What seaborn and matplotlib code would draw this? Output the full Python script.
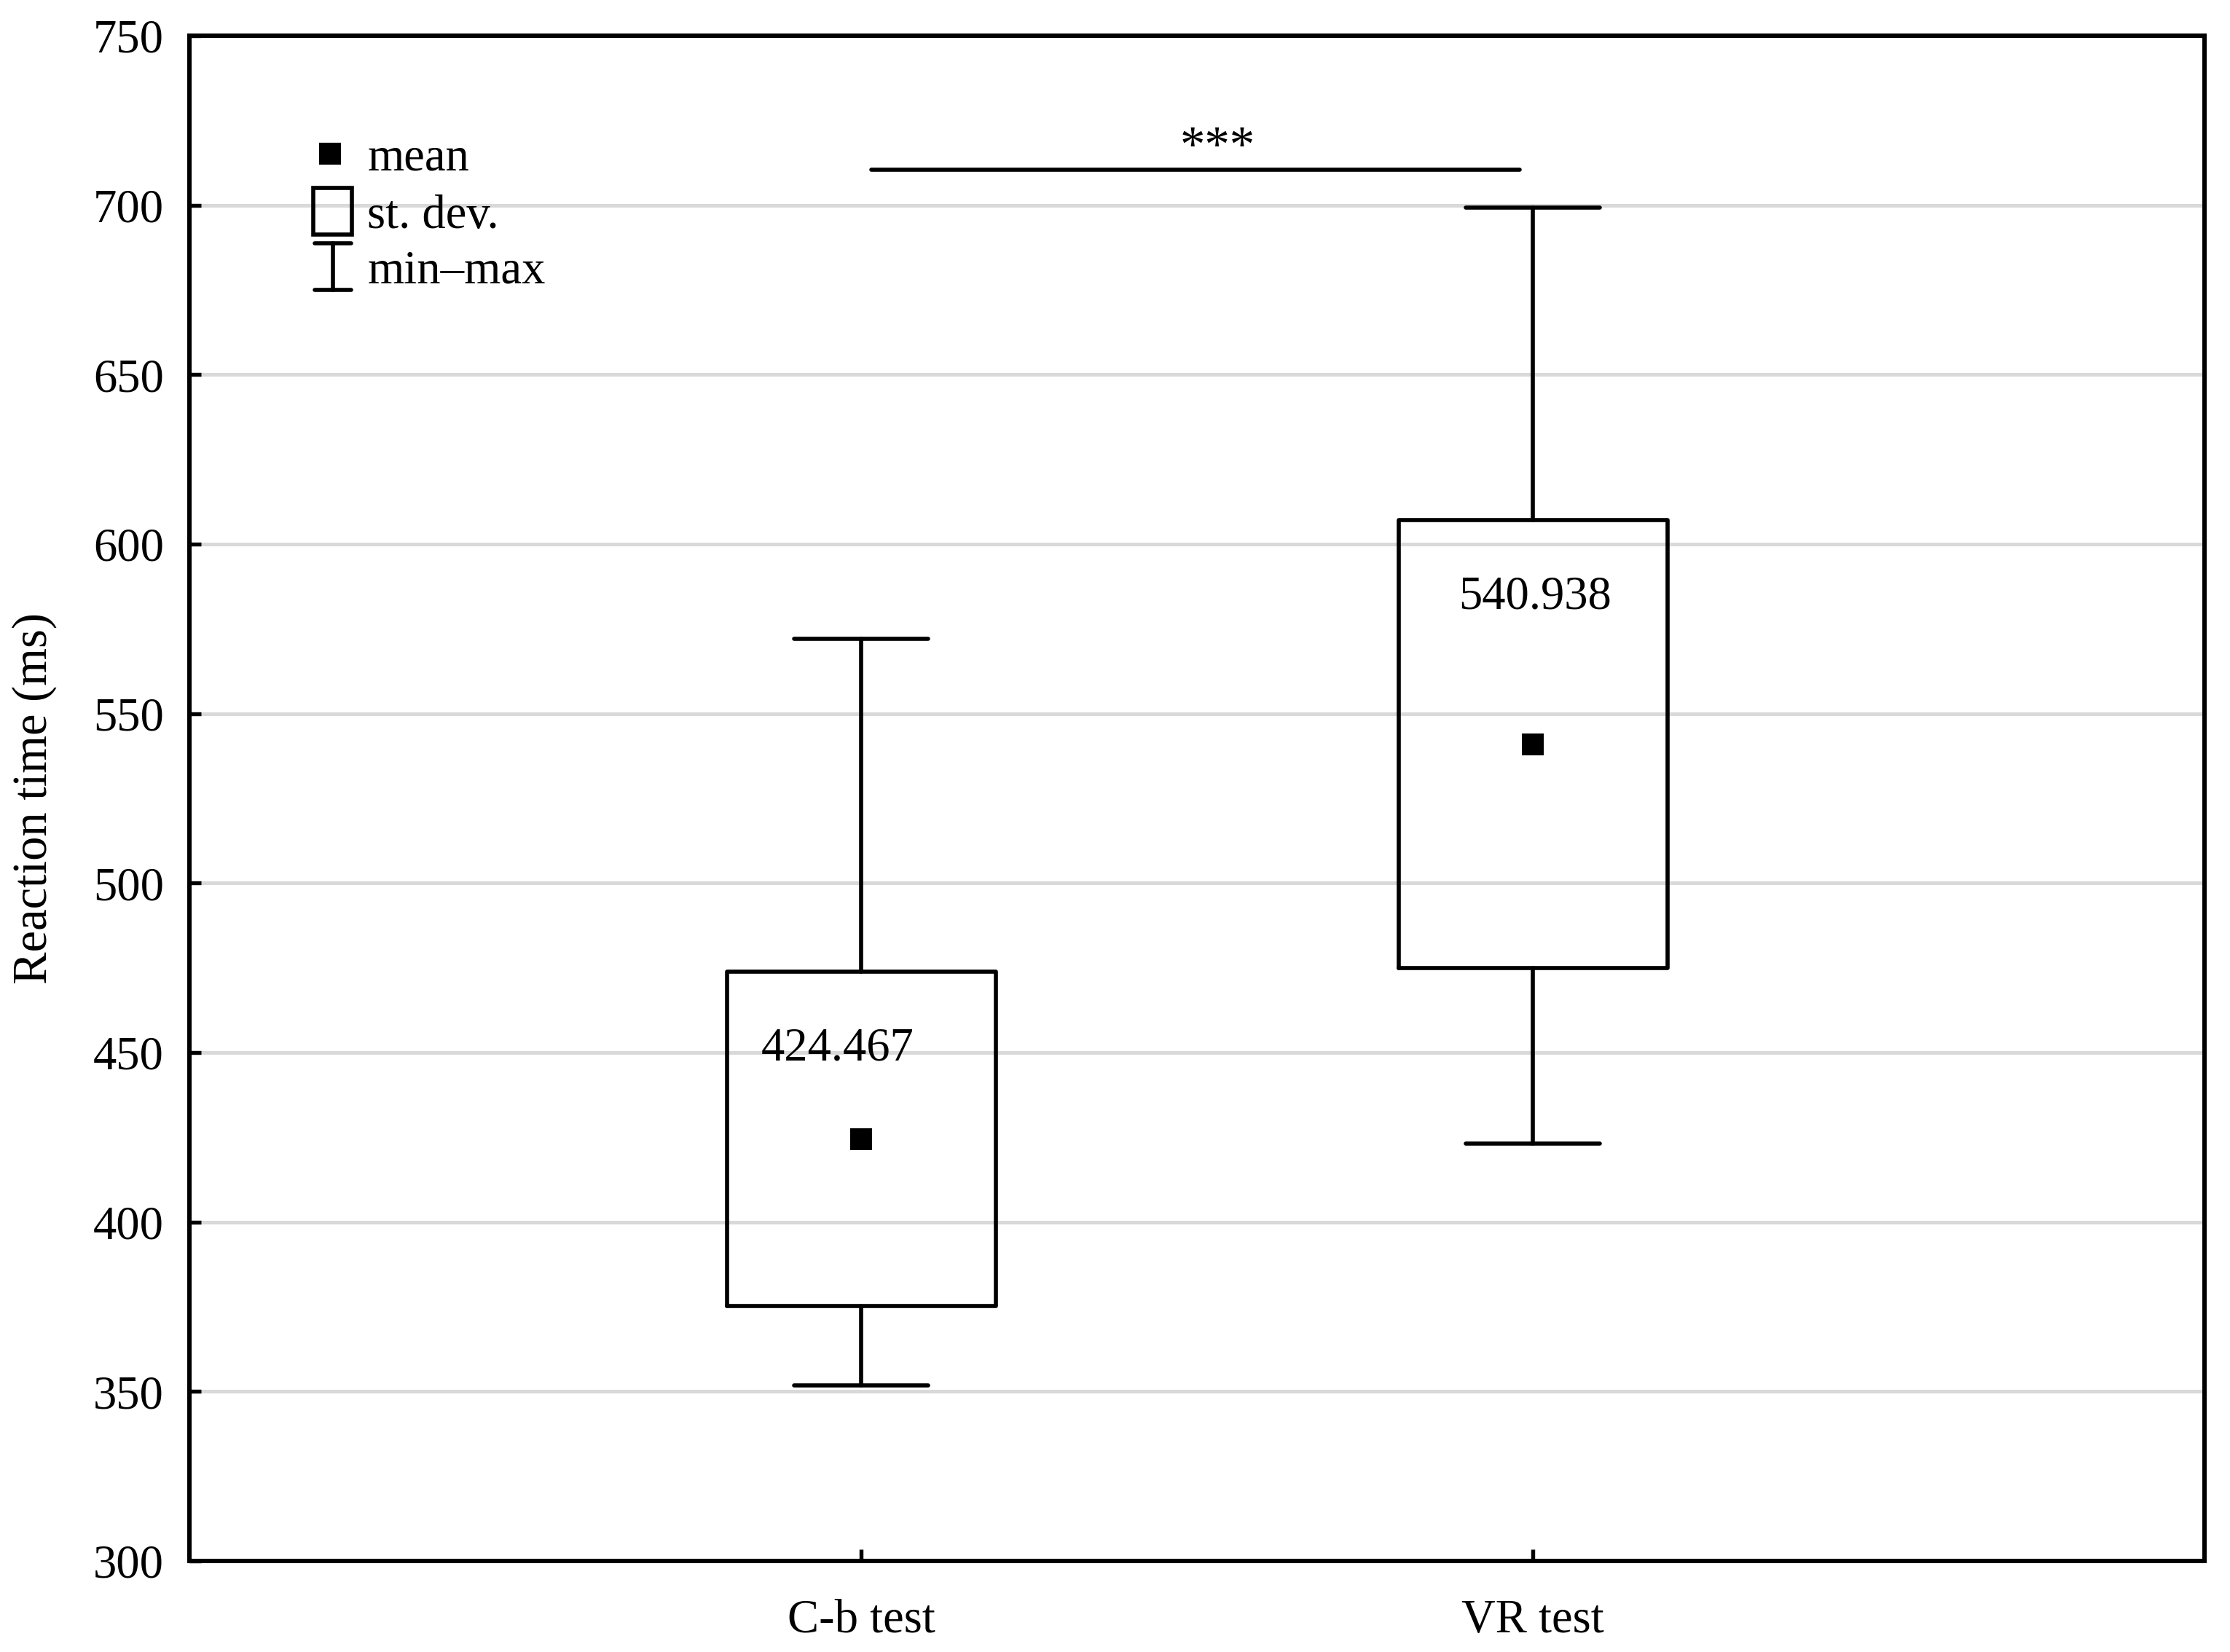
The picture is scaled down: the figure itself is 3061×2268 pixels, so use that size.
import matplotlib.pyplot as plt
import matplotlib.patches as mpatches
import seaborn as sns
import pandas as pd
import numpy as np

# valores
categorias = ['C-b test', 'VR test']
medias = [424.467, 540.938]
desvios = [49.35, 66.05]
minimos = [351.8, 423.2]
maximos = [572.0, 699.2]

dados = pd.DataFrame({'teste': categorias, 'media': medias, 'dp': desvios,
                      'minimo': minimos, 'maximo': maximos})
dados['pos'] = np.arange(len(dados))

sns.set_theme(style="whitegrid")
plt.rcParams['font.family'] = ['Liberation Serif', 'DejaVu Serif']
plt.rcParams['text.color'] = 'black'
plt.rcParams['axes.labelcolor'] = 'black'

fig, ax = plt.subplots(figsize=(3061 / 300, 2268 / 300), dpi=300)
fig.subplots_adjust(left=0.085, right=0.9886, bottom=0.0551, top=0.9784)

# caixas = media +- desvio, bigodes = min-max
stats = [dict(label=r.teste, med=r.media, q1=r.media - r.dp, q3=r.media + r.dp,
              whislo=r.minimo, whishi=r.maximo, fliers=[])
         for r in dados.itertuples()]
linha = dict(color='black', linewidth=1.35)
ax.bxp(stats, positions=dados['pos'], widths=0.4, capwidths=0.2,
       boxprops=linha, whiskerprops=linha, capprops=linha,
       medianprops=dict(linewidth=0), manage_ticks=False)

sns.scatterplot(data=dados, x='pos', y='media', marker='s', s=52, color='black',
                linewidth=0, ax=ax, zorder=5, legend=False)

# valores das medias
desloc = [-0.035, 0.003]
for i, r in enumerate(dados.itertuples()):
    ax.text(r.pos + desloc[i], r.media + r.dp - 26, f'{r.media:.3f}',
            ha='center', va='baseline', fontsize=15.5, color='black')

# significancia
ax.plot([0.015, 0.98], [710.4, 710.4], color='black', lw=1.35)
ax.text(0.53, 713, '***', ha='center', va='baseline', fontsize=16.5, color='black')

# eixos
ax.set_xlim(-1, 2)
ax.set_ylim(300, 750)
ax.set_yticks(np.arange(300, 751, 50))
ax.set_xticks(dados['pos'])
ax.set_xticklabels(categorias)
ax.set_xlabel('')
ax.set_ylabel('Reaction time (ms)', fontsize=16, labelpad=12, color='black')
ax.xaxis.grid(False)
ax.yaxis.grid(True, color='#d9d9d9', linewidth=1.2)
ax.set_axisbelow(True)
for s in ax.spines.values():
    s.set_color('black')
    s.set_linewidth(1.45)
ax.tick_params(axis='both', direction='in', length=3.8, width=1.3, color='black',
               labelcolor='black', labelsize=15.5, pad=8.5, bottom=True, left=True)
ax.tick_params(axis='x', pad=12.5)

# legenda desenhada a mao
ax.plot([0.0698], [0.9226], marker='s', ms=6.2, color='black', linestyle='none',
        transform=ax.transAxes)
ax.add_patch(mpatches.Rectangle((0.0615, 0.8696), 0.0191, 0.0306, fill=False,
                                edgecolor='black', lw=1.35, transform=ax.transAxes))
ax.plot([0.0712, 0.0712], [0.8333, 0.8639], color='black', lw=1.35, transform=ax.transAxes)
ax.plot([0.0622, 0.0803], [0.8639, 0.8639], color='black', lw=1.35, transform=ax.transAxes)
ax.plot([0.0622, 0.0803], [0.8333, 0.8333], color='black', lw=1.35, transform=ax.transAxes)
for y, txt in zip([0.9121, 0.8739, 0.8381], ['mean', 'st. dev.', 'min–max']):
    ax.text(0.0882, y, txt, transform=ax.transAxes, va='baseline', fontsize=15.5,
            color='black')

fig.savefig('out.png', dpi=300)
